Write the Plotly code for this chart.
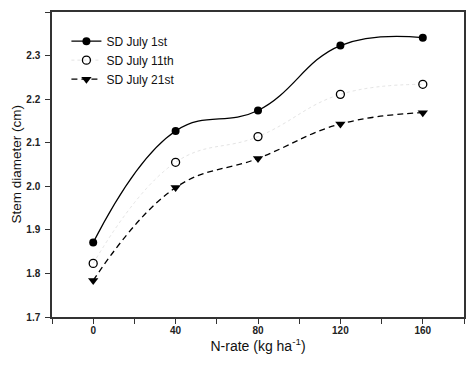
import plotly.graph_objects as go

n_rate = [0, 40, 80, 120, 160]
sd_july_1 = [1.871, 2.127, 2.174, 2.323, 2.341]
sd_july_11 = [1.823, 2.055, 2.114, 2.211, 2.234]
sd_july_21 = [1.784, 1.997, 2.064, 2.143, 2.169]
x_ticks = [0, 40, 80, 120, 160]
y_ticks = [1.7, 1.8, 1.9, 2.0, 2.1, 2.2, 2.3, 2.4]

fig = go.Figure()
fig.add_trace(go.Scatter(
    x=n_rate, y=sd_july_1, name="SD July 1st", mode="lines+markers",
    line=dict(color="black", width=1.3, shape="spline", smoothing=1.2),
    marker=dict(symbol="circle", size=8, color="black")))
fig.add_trace(go.Scatter(
    x=n_rate, y=sd_july_11, name="SD July 11th", mode="lines+markers",
    line=dict(color="#e4e4e4", width=1, shape="spline", smoothing=1.2, dash="dot"),
    marker=dict(symbol="circle-open", size=8, color="black", line=dict(width=1.3))))
fig.add_trace(go.Scatter(
    x=n_rate, y=sd_july_21, name="SD July 21st", mode="lines+markers",
    line=dict(color="black", width=1.3, shape="spline", smoothing=1.2, dash="6px,4px"),
    marker=dict(symbol="triangle-down", size=9, color="black")))

font_family = "Liberation Sans, Arial, sans-serif"
tick_font = dict(family="Liberation Sans, Arial, sans-serif",
                 size=10, color="#222", weight="bold")
# the page has an 8px body margin, so the figure is sized and offset to compensate
fig.update_layout(
    width=458, height=356,
    margin=dict(l=44, r=2, t=4, b=47),
    paper_bgcolor="white", plot_bgcolor="white",
    font=dict(family=font_family, size=13, color="#111"),
    showlegend=True,
    legend=dict(x=0.035, y=0.952, xanchor="left", yanchor="top",
                bgcolor="rgba(0,0,0,0)", font=dict(size=12, color="#111"),
                tracegroupgap=0, itemwidth=30),
    xaxis=dict(
        range=[-20, 180], tickvals=x_ticks, ticktext=[str(v) for v in x_ticks],
        ticks="outside", ticklen=5, tickcolor="#333", tickwidth=1.2,
        showline=True, linecolor="#333", linewidth=1.5, mirror=True,
        showgrid=False, zeroline=False, automargin=False,
        minor=dict(ticks="outside", dtick=20, tick0=0, ticklen=5, tickcolor="#333", tickwidth=1.2, showgrid=False),
        title=dict(text="N-rate (kg ha<sup>-1</sup>)", font=dict(size=14), standoff=4),
        tickfont=tick_font, ticklabelstandoff=-2,
    ),
    yaxis=dict(
        range=[1.7, 2.4], tickvals=y_ticks, tickformat=".1f",
        ticks="outside", ticklen=5, tickcolor="#333", tickwidth=1.2,
        showline=True, linecolor="#333", linewidth=1.5, mirror=True,
        showgrid=False, zeroline=False, automargin=False,
        tickfont=tick_font, ticklabelstandoff=3,
    ),
    annotations=[dict(
        text="Stem diameter (cm)", textangle=-90, showarrow=False,
        xref="paper", yref="paper", x=0, y=0.5, xanchor="center", yanchor="middle",
        xshift=-36, font=dict(size=13.5, color="#111"))],
)

fig.write_html("out.html")
